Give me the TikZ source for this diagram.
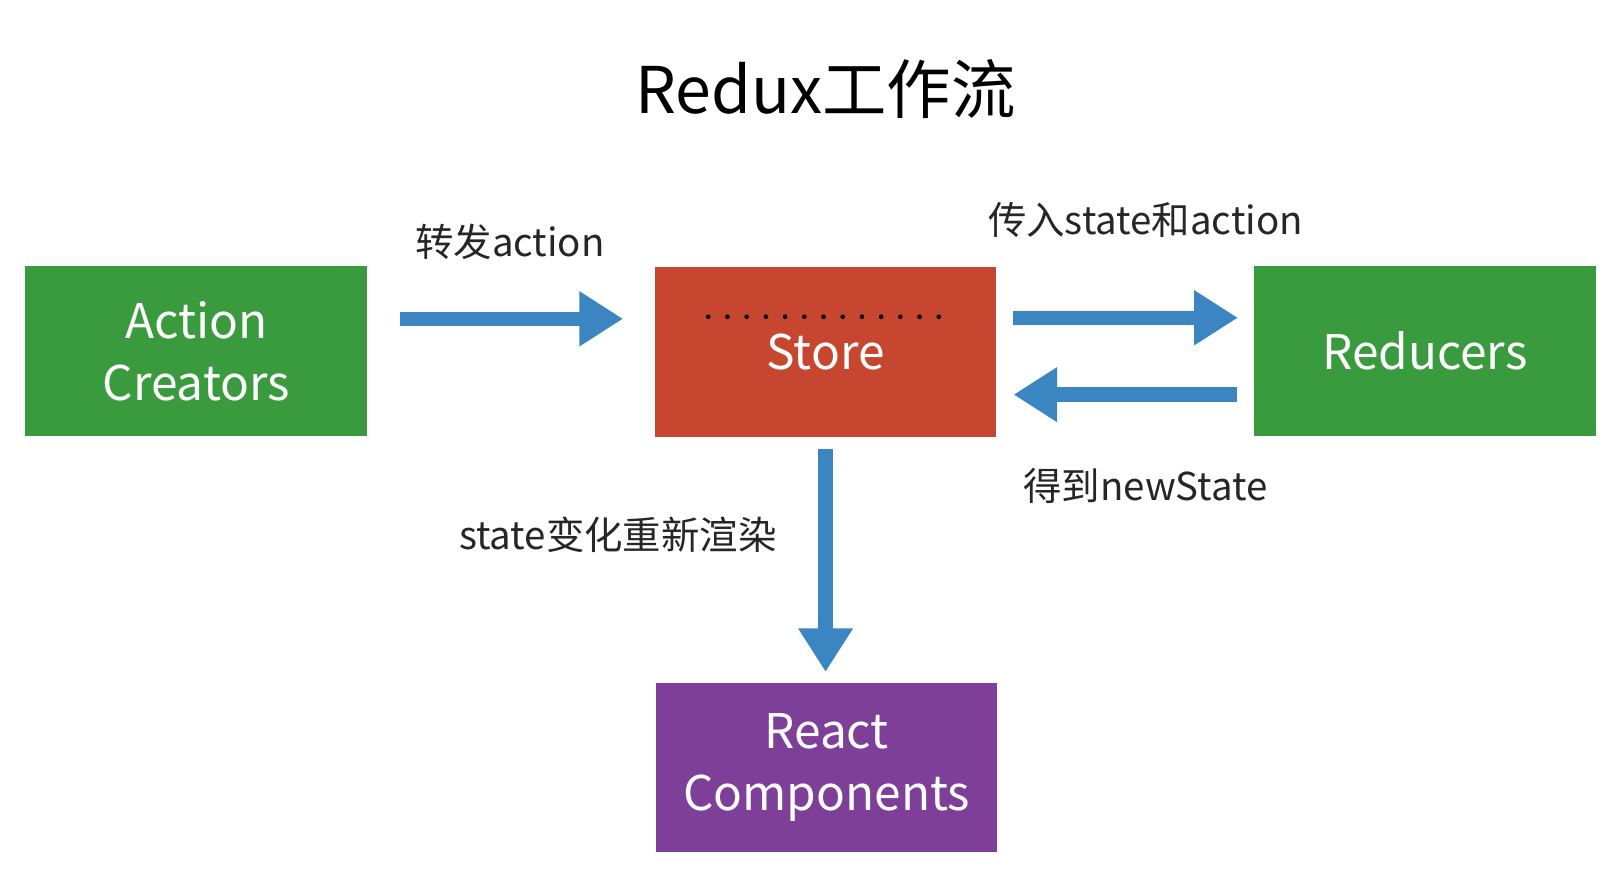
\documentclass[tikz,border=0pt]{standalone}
\usepackage{fontspec}
\setmainfont{Noto Sans CJK SC}[Scale=1]
\usetikzlibrary{arrows.meta}
\definecolor{gr}{HTML}{3A9B3E}
\definecolor{rd}{HTML}{C7462F}
\definecolor{pu}{HTML}{7E3F98}
\definecolor{bl}{HTML}{3A85C2}
\begin{document}
\begin{tikzpicture}[x=1pt,y=-1pt,
 box/.style={draw=none,minimum width=329pt,minimum height=163pt,text=white,font=\fontsize{46}{60}\selectfont\addfontfeature{Weight=Light},align=center,inner sep=0},
 arr/.style={draw=bl,line width=14pt,-{Triangle[length=42pt,width=50pt]}},
 lab/.style={font=\fontsize{37}{40}\selectfont,text=black!85}]
\useasboundingbox (0,0) rectangle (1560,855);
\fill[white] (0,0) rectangle (1560,855);
\node[font=\fontsize{62}{66}\selectfont] (title) at (795,86) {Redux工作流};
\node[box,fill=gr] (ac) at (189,338) {Action\\Creators};
\node[box,fill=rd] (st) at (795,339) {Store};
\node[box,fill=gr] (re) at (1372,338) {Reducers};
\node[box,fill=pu] (rc) at (796,739) {React\\Components};
\draw[black,line width=4.5pt,line cap=round,dash pattern=on 0pt off 18.5pt] (682,305) -- (905,305);
\coordinate (a1s) at (385,307); \coordinate (a1e) at (600,307);
\coordinate (a2s) at (975,306); \coordinate (a2e) at (1192,306);
\coordinate (a3s) at (1191,380); \coordinate (a3e) at (976,380);
\coordinate (a4s) at (795,432); \coordinate (a4e) at (795,647);
\draw[arr] (a1s) -- (a1e);
\draw[arr] (a2s) -- (a2e);
\draw[arr] (a3s) -- (a3e);
\draw[arr] (a4s) -- (a4e);
\node[lab] (l1) at (491,233) {转发action};
\node[lab] (l2) at (1103,212) {传入state和action};
\node[lab] (l3) at (1103,468) {得到newState};
\node[lab] (l4) at (595,515) {state变化重新渲染};
\end{tikzpicture}
\end{document}
